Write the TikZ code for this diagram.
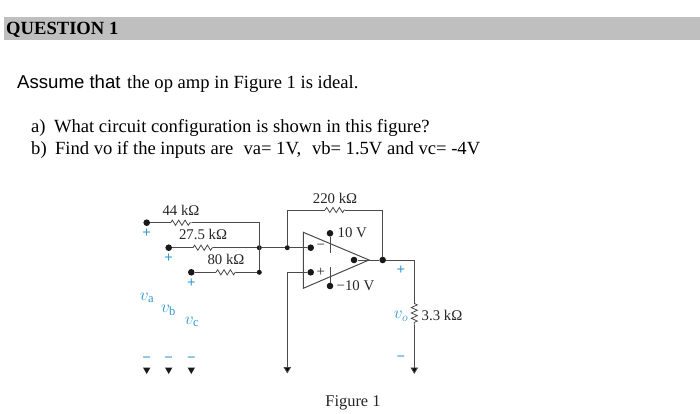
\documentclass[tikz,border=0pt]{standalone}
\usepackage{fontspec}
\setmainfont{Liberation Serif}
\newfontfamily\arialf{Liberation Sans}
\usetikzlibrary{decorations.pathmorphing,arrows.meta}
\definecolor{wirec}{HTML}{4A4A4A}
\definecolor{bluec}{HTML}{2F9BCC}
\definecolor{barc}{HTML}{BFBFBF}
\definecolor{textc}{HTML}{262626}
\tikzset{
  x=1pt,y=-1pt,
  wire/.style={draw=wirec,line width=0.9pt},
  zz/.style={draw=wirec,line width=0.8pt,decorate,decoration={zigzag,segment length=6.4pt,amplitude=2.6pt}},
  gnd/.style={draw=wirec,line width=0.9pt,-{Triangle[width=7.5pt,length=6.5pt,fill=black]}},
  tipg/.style={fill=black!90},
  dot/.style={circle,fill=black!90,inner sep=0pt,minimum size=5pt},
  bigdot/.style={circle,fill=black!90,inner sep=0pt,minimum size=6.6pt},
  lbl/.style={inner sep=0pt,text=textc,font=\fontsize{14.8}{16}\selectfont},
  pol/.style={inner sep=0pt,text=bluec,font=\fontsize{15}{16}\selectfont\bfseries},
  vl/.style={inner sep=0pt,text=bluec,font=\fontsize{18}{18}\selectfont},
  txt/.style={inner sep=0pt,anchor=base west,text=black,font=\fontsize{18.6}{20}\selectfont},
}
\begin{document}
\begin{tikzpicture}
\useasboundingbox (0,0) rectangle (700,414);
\fill[white] (0,0) rectangle (700,414);
\node[anchor=north west,fill=barc,minimum width=696pt,minimum height=23pt,inner sep=0pt] (bar) at (4,17) {};
\node[txt,font=\fontsize{18.6}{20}\selectfont\bfseries] (q) at (6,34.5) {QUESTION 1};
\node[txt] (l1) at (17,89) {{\arialf\fontsize{18.6}{20}\selectfont Assume that}\hspace{0.1em} the op amp in Figure 1 is ideal.};
\node[txt] (l2) at (31,132) {a)\hspace{0.45em}What circuit configuration is shown in this figure?};
\node[txt] (l3) at (31,154) {b)\hspace{0.45em}Find vo if the inputs are\hspace{0.3em} va= 1V,\hspace{0.33em} vb= 1.5V and vc= -4V};
\node[inner sep=0pt,anchor=base,font=\fontsize{16.4}{18}\selectfont,text=textc] (fig) at (353,406) {Figure 1};

% op amp
\coordinate (t1) at (303.3,232.3);
\coordinate (t2) at (303.3,288.3);
\coordinate (t3) at (369,260);
\draw[wirec,line width=1pt,line join=miter] (t1) -- (t3) -- (t2) -- cycle;

% dots
\node[bigdot] (a) at (146.7,222.7) {};
\node[bigdot] (b) at (168.7,247.7) {};
\node[bigdot] (c) at (191.3,272.3) {};
\node[dot] (j1) at (259.3,247.7) {};
\node[dot] (j2) at (259.3,272.3) {};
\node[dot] (j3) at (287.3,247.7) {};
\node[bigdot] (inv) at (310.7,247.7) {};
\node[bigdot] (non) at (310.7,272.3) {};
\node[bigdot] (outi) at (354,260) {};
\node[bigdot] (j4) at (382.7,260) {};
\node[bigdot] (vp) at (330,233.3) {};
\node[bigdot] (vn) at (330,286) {};

% coordinates
\coordinate (ca) at (259.3,222.7);
\coordinate (ra1) at (170.7,222.7); \coordinate (ra2) at (191.7,222.7);
\coordinate (rb1) at (193,247.7); \coordinate (rb2) at (213,247.7);
\coordinate (rc1) at (216,272.3); \coordinate (rc2) at (236,272.3);
\coordinate (ft1) at (287.3,210); \coordinate (ft2) at (382.7,210);
\coordinate (rf1) at (325,210); \coordinate (rf2) at (345,210);
\coordinate (n1) at (287.3,272.3);
\coordinate (gm) at (287.3,373.5);
\coordinate (oc) at (414.3,260);
\coordinate (rl1) at (414.3,303.5); \coordinate (rl2) at (414.3,325);
\coordinate (go) at (414.3,374);
\coordinate (ga) at (146.7,374); \coordinate (gb) at (168.7,374); \coordinate (gc) at (191.3,374);
\coordinate (vps) at (330,253.3); \coordinate (vns) at (330,266.7);

% wires
\draw[wire] (a) -- (ra1); \draw[zz] (ra1) -- (ra2); \draw[wire] (ra2) -- (ca) -- (j2);
\draw[wire] (b) -- (rb1); \draw[zz] (rb1) -- (rb2); \draw[wire] (rb2) -- (j1) -- (j3) -- (inv);
\draw[wire] (c) -- (rc1); \draw[zz] (rc1) -- (rc2); \draw[wire] (rc2) -- (j2);
\draw[wire] (j3) -- (ft1) -- (rf1); \draw[zz] (rf1) -- (rf2); \draw[wire] (rf2) -- (ft2) -- (j4);
\draw[gnd] (non) -- (n1) -- (gm);
\draw[wire] (outi) -- (j4) -- (oc) -- (rl1);
\draw[zz,decoration={zigzag,segment length=5.4pt,amplitude=3pt}] (rl1) -- (rl2);
\draw[gnd] (rl2) -- (go);
\draw[wire] (vp) -- (vps);
\draw[wire] (vn) -- (vns);
\foreach \g in {ga,gb,gc}{
  \fill[tipg] (\g) -- ++(-3.6,-6.3) -- ++(7.2,0) -- cycle;
}

% value labels
\node[lbl] (r1l) at (181,210) {44 kΩ};
\node[lbl] (r2l) at (203,234.5) {27.5 kΩ};
\node[lbl] (r3l) at (226,259.5) {80 kΩ};
\node[lbl] (r4l) at (335,198.5) {220 kΩ};
\node[lbl,anchor=west] (vpl) at (337.5,233) {10 V};
\node[lbl,anchor=west] (vnl) at (336.5,286) {−10 V};
\node[lbl,anchor=west] (rll) at (421.5,315) {3.3 kΩ};
\node[lbl] (mi) at (320.7,247) {−};
\node[lbl] (pi) at (320.7,272) {+};

% polarity
\node[pol] (pa) at (146.7,233) {+};
\node[pol] (pb) at (168.7,258) {+};
\node[pol] (pc) at (191.3,283) {+};
\node[pol] (po) at (401,270.5) {+};
\node[pol] (ma) at (146.7,360) {−};
\node[pol] (mb) at (168.7,360) {−};
\node[pol] (mc) at (191.3,360) {−};
\node[pol] (mo) at (401,359) {−};
\node[vl] (va) at (147,298) {$v_{\mathrm{a}}$};
\node[vl] (vb) at (168.5,310) {$v_{\mathrm{b}}$};
\node[vl] (vc) at (192,322) {$v_{\mathrm{c}}$};
\node[vl] (vo) at (401,316) {$v_{o}$};
\end{tikzpicture}
\end{document}
